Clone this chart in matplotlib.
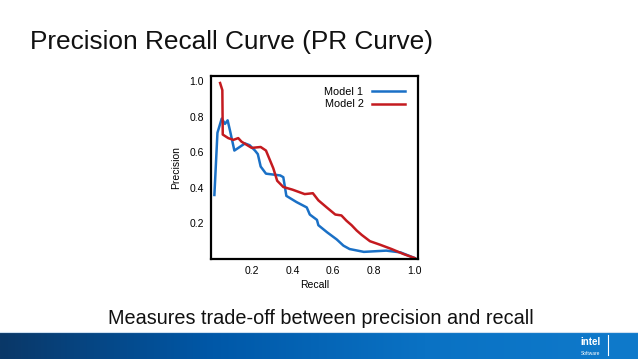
import numpy as np
import matplotlib.pyplot as plt
from matplotlib.colors import LinearSegmentedColormap

plt.rcParams['font.family'] = ['Liberation Sans', 'DejaVu Sans']

recall_m1 = [0.017, 0.032, 0.053, 0.069, 0.082, 0.094, 0.115, 0.167, 0.19, 0.216, 0.23, 0.244,
             0.27, 0.34, 0.355, 0.37, 0.42, 0.47, 0.485, 0.52, 0.527, 0.57, 0.617, 0.65,
             0.68, 0.75, 0.86, 0.93, 1.0]
precision_m1 = [0.36, 0.71, 0.79, 0.76, 0.78, 0.72, 0.61, 0.65, 0.64, 0.61, 0.59, 0.52,
                0.48, 0.47, 0.46, 0.355, 0.32, 0.29, 0.25, 0.22, 0.19, 0.15, 0.11, 0.075,
                0.056, 0.04, 0.047, 0.037, 0.005]
recall_m2 = [0.045, 0.056, 0.058, 0.085, 0.11, 0.134, 0.15, 0.2, 0.244, 0.27, 0.306, 0.325,
             0.355, 0.40, 0.46, 0.5, 0.527, 0.568, 0.61, 0.64, 0.665, 0.69, 0.715, 0.74,
             0.78, 0.83, 0.886, 0.944, 1.0]
precision_m2 = [0.99, 0.95, 0.70, 0.68, 0.67, 0.68, 0.66, 0.625, 0.63, 0.61, 0.51, 0.44,
                0.405, 0.39, 0.365, 0.37, 0.33, 0.29, 0.25, 0.245, 0.215, 0.19, 0.16, 0.135,
                0.10, 0.08, 0.056, 0.028, 0.005]
xticks = [0.2, 0.4, 0.6, 0.8, 1.0]
yticks = [0.2, 0.4, 0.6, 0.8, 1.0]

fig = plt.figure(figsize=(6.38, 3.59), dpi=100)

fig.text(0.047, 0.882, 'Precision Recall Curve (PR Curve)', fontsize=18.9, color='#111111',
         va='center', ha='left')
fig.text(0.503, 0.112, 'Measures trade-off between precision and recall', fontsize=14.3,
         color='#111111', va='center', ha='center')

# chart
ax = fig.add_axes([0.3306, 0.2786, 0.325, 0.51])
ax.plot(recall_m1, precision_m1, color='#1a70c6', lw=1.8, label='Model 1')
ax.plot(recall_m2, precision_m2, color='#c41a1f', lw=1.8, label='Model 2')
ax.set_xlim(0, 1.017)
ax.set_ylim(0, 1.03)
ax.set_xticks(xticks)
ax.set_yticks(yticks)
ax.set_xticklabels(['%.1f' % t for t in xticks])
ax.set_yticklabels(['%.1f' % t for t in yticks])
ax.tick_params(length=0, labelsize=7.5, pad=5)
for s in ax.spines.values():
    s.set_linewidth(1.6)
ax.set_xlabel('Recall', fontsize=7.5, labelpad=3)
ax.set_ylabel('Precision', fontsize=7.5, labelpad=6)
ax.legend(loc='upper right', bbox_to_anchor=(0.955, 0.962), frameon=False, fontsize=7.8,
          markerfirst=False, handlelength=3.0, labelspacing=0.2, borderaxespad=0,
          handletextpad=0.8)

# bottom banner
bar = fig.add_axes([0, 0, 1, 27 / 359])
grad = np.linspace(0, 1, 256).reshape(1, -1)
cmap = LinearSegmentedColormap.from_list('band', ['#0a3868', '#0058a8', '#0a72c4', '#0f7acb'])
bar.imshow(grad, aspect='auto', cmap=cmap, extent=[0, 1, 0, 1])
bar.set_xlim(0, 1)
bar.set_ylim(0, 1)
bar.axis('off')
bar.text(0.925, 0.62, 'intel', color='white', fontsize=7, ha='center', va='center',
         fontweight='bold')
bar.text(0.925, 0.2, 'Software', color='white', fontsize=3.5, ha='center', va='center')
bar.plot([0.953, 0.953], [0.15, 0.9], color='white', lw=0.8)
fig.add_artist(plt.Line2D([0, 1], [27 / 359, 27 / 359], color='#cfe0f0', lw=0.8))

fig.savefig('out.png', dpi=100)
